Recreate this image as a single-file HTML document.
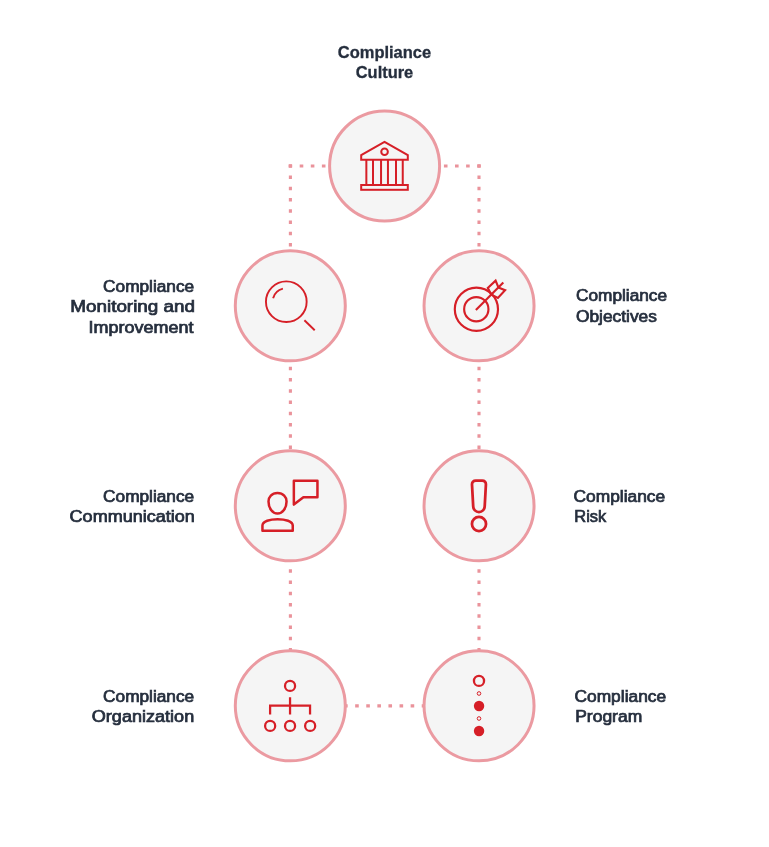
<!DOCTYPE html>
<html lang="en">
<head>
<meta charset="utf-8">
<title>Compliance Framework</title>
<style>
  html, body { margin: 0; padding: 0; background: #ffffff; }
  body { width: 769px; height: 847px; overflow: hidden; position: relative; }
  svg { position: absolute; left: 0; top: 0; display: block; will-change: transform; }
  text { font-family: "Liberation Sans", sans-serif; fill: #252e3d; }
  .title { font-weight: bold; font-size: 16px; stroke: #252e3d; stroke-width: 0.3px; paint-order: stroke fill; }
  .lbl { font-weight: normal; font-size: 15.6px; stroke: #252e3d; stroke-width: 0.7px; paint-order: stroke fill; }
  .dots { stroke: #ea939b; stroke-width: 3.1; fill: none; }
  .node { fill: #f5f5f5; stroke: #eb9aa1; stroke-width: 3; }
  .ic { fill: none; stroke: #d61f27; }
</style>
</head>
<body>
<svg width="769" height="847" viewBox="0 0 769 847">

  <!-- dotted connectors -->
  <g class="dots">
    <line x1="290.4" y1="164.25" x2="290.4" y2="707.75" stroke-dasharray="3.5 7.75"/>
    <line x1="479.0" y1="164.25" x2="479.0" y2="707.75" stroke-dasharray="3.5 7.75"/>
    <line x1="288.6" y1="166" x2="480.8" y2="166" stroke-dasharray="3.6 7.494"/>
    <line x1="288.6" y1="705.9" x2="480.8" y2="705.9" stroke-dasharray="3.6 7.494"/>
  </g>

  <!-- nodes -->
  <g class="node">
    <circle cx="384.6" cy="166.0" r="55"/>
    <circle cx="290.3" cy="305.85" r="55"/>
    <circle cx="479.05" cy="305.85" r="55"/>
    <circle cx="290.3" cy="505.85" r="55"/>
    <circle cx="479.05" cy="505.85" r="55"/>
    <circle cx="290.3" cy="705.85" r="55"/>
    <circle cx="479.05" cy="705.85" r="55"/>
  </g>

  <!-- icon: culture (building) -->
  <g class="ic" stroke-width="2" stroke-linejoin="miter">
    <path d="M384.5 141.9 L407.8 155.2 V159.8 H361.2 V155.2 Z"/>
    <circle cx="384.55" cy="151.8" r="3.3"/>
    <path d="M366.35 159.8 V185 M373 159.8 V185 M381.05 159.8 V185 M387.95 159.8 V185 M396 159.8 V185 M402.75 159.8 V185"/>
    <rect x="361.2" y="185" width="46.6" height="4.8"/>
  </g>

  <!-- icon: monitoring (magnifier) -->
  <g class="ic" stroke-width="1.9">
    <circle cx="286.3" cy="301.7" r="20.35"/>
    <path d="M273.1 298.2 A13.6 13.6 0 0 1 282.9 288.6"/>
    <path d="M304.4 320.2 L314.7 330.2"/>
  </g>

  <!-- icon: objectives (target) -->
  <g class="ic" stroke-width="2.15">
    <circle cx="476.4" cy="309.3" r="21.6"/>
    <circle cx="476.3" cy="309.2" r="12.15"/>
    <path d="M475.9 309.9 L503.3 282.5"/>
    <path d="M498.4 287.4 L495.6 280.7 L487.8 287.9 L491.2 294.4"/>
    <path d="M498.4 287.4 L505.1 290.2 L497.9 298.0 L491.4 294.6"/>
  </g>

  <!-- icon: communication (person + bubble) -->
  <g class="ic" stroke-width="2.5" stroke-linejoin="round">
    <path d="M293.85 480.75 H317.45 V497.15 H303.4 L293.85 504.6 Z"/>
    <path d="M277.5 493.05 C283.3 493.05 286.55 497 286.55 501.4 C286.55 508 282.6 513.55 277.5 513.55 C272.4 513.55 268.5 508 268.5 501.4 C268.5 497 271.7 493.05 277.5 493.05 Z"/>
    <path d="M262.45 530.85 V525.6 C262.45 521.2 270 519.25 277.6 519.25 C285.2 519.25 292.75 521.2 292.75 525.6 V530.85 Z"/>
  </g>

  <!-- icon: risk (exclamation) -->
  <g class="ic" stroke-width="2.75">
    <path d="M475.8 480.7 H482.2 C484.6 480.7 486.05 482.2 485.9 484.6 L484.7 506.3 A5.75 5.75 0 0 1 473.2 506.3 L472 484.6 C471.85 482.2 473.4 480.7 475.8 480.7 Z"/>
    <circle cx="479" cy="524" r="7.05"/>
  </g>

  <!-- icon: organization (org chart) -->
  <g class="ic" stroke-width="2.25">
    <circle cx="290.05" cy="685.9" r="5.05"/>
    <circle cx="270.15" cy="725.9" r="5.05"/>
    <circle cx="290.05" cy="725.9" r="5.05"/>
    <circle cx="310.15" cy="725.9" r="5.05"/>
    <path d="M290.05 697.3 V714.6 M270.1 714.6 V705.7 H310.05 V714.6"/>
  </g>

  <!-- icon: program (step dots) -->
  <g>
    <circle class="ic" stroke-width="2.3" cx="479" cy="680.9" r="5.05"/>
    <circle class="ic" stroke-width="1" cx="479" cy="693.5" r="1.8"/>
    <circle cx="479.05" cy="706" r="5.2" fill="#d61f27"/>
    <circle class="ic" stroke-width="1" cx="479" cy="718.5" r="1.8"/>
    <circle cx="479.05" cy="731" r="5.2" fill="#d61f27"/>
  </g>

  <!-- labels -->
  <text class="title" text-anchor="middle" x="384.5" y="57.8" textLength="93.3" lengthAdjust="spacingAndGlyphs">Compliance</text>
  <text class="title" text-anchor="middle" x="384.5" y="78.2" textLength="57.5" lengthAdjust="spacingAndGlyphs">Culture</text>

  <g class="lbl" text-anchor="end">
    <text x="194.2" y="292.3" textLength="91.1" lengthAdjust="spacingAndGlyphs">Compliance</text>
    <text x="195.0" y="312.4" textLength="124.7" lengthAdjust="spacingAndGlyphs">Monitoring and</text>
    <text x="193.45" y="332.5" textLength="104.9" lengthAdjust="spacingAndGlyphs">Improvement</text>
    <text x="194.2" y="502.0" textLength="91.1" lengthAdjust="spacingAndGlyphs">Compliance</text>
    <text x="194.9" y="522.4" textLength="125.3" lengthAdjust="spacingAndGlyphs">Communication</text>
    <text x="194.2" y="702.0" textLength="91.1" lengthAdjust="spacingAndGlyphs">Compliance</text>
    <text x="194.2" y="722.4" textLength="102.4" lengthAdjust="spacingAndGlyphs">Organization</text>
  </g>
  <g class="lbl" text-anchor="start">
    <text x="576.0" y="301.4" textLength="91.1" lengthAdjust="spacingAndGlyphs">Compliance</text>
    <text x="576.0" y="321.5" textLength="80.9" lengthAdjust="spacingAndGlyphs">Objectives</text>
    <text x="573.6" y="501.5" textLength="91.6" lengthAdjust="spacingAndGlyphs">Compliance</text>
    <text x="574.3" y="522.3" textLength="31.9" lengthAdjust="spacingAndGlyphs">Risk</text>
    <text x="574.5" y="701.8" textLength="91.6" lengthAdjust="spacingAndGlyphs">Compliance</text>
    <text x="575.2" y="722.0" textLength="67.0" lengthAdjust="spacingAndGlyphs">Program</text>
  </g>

</svg>
</body>
</html>
